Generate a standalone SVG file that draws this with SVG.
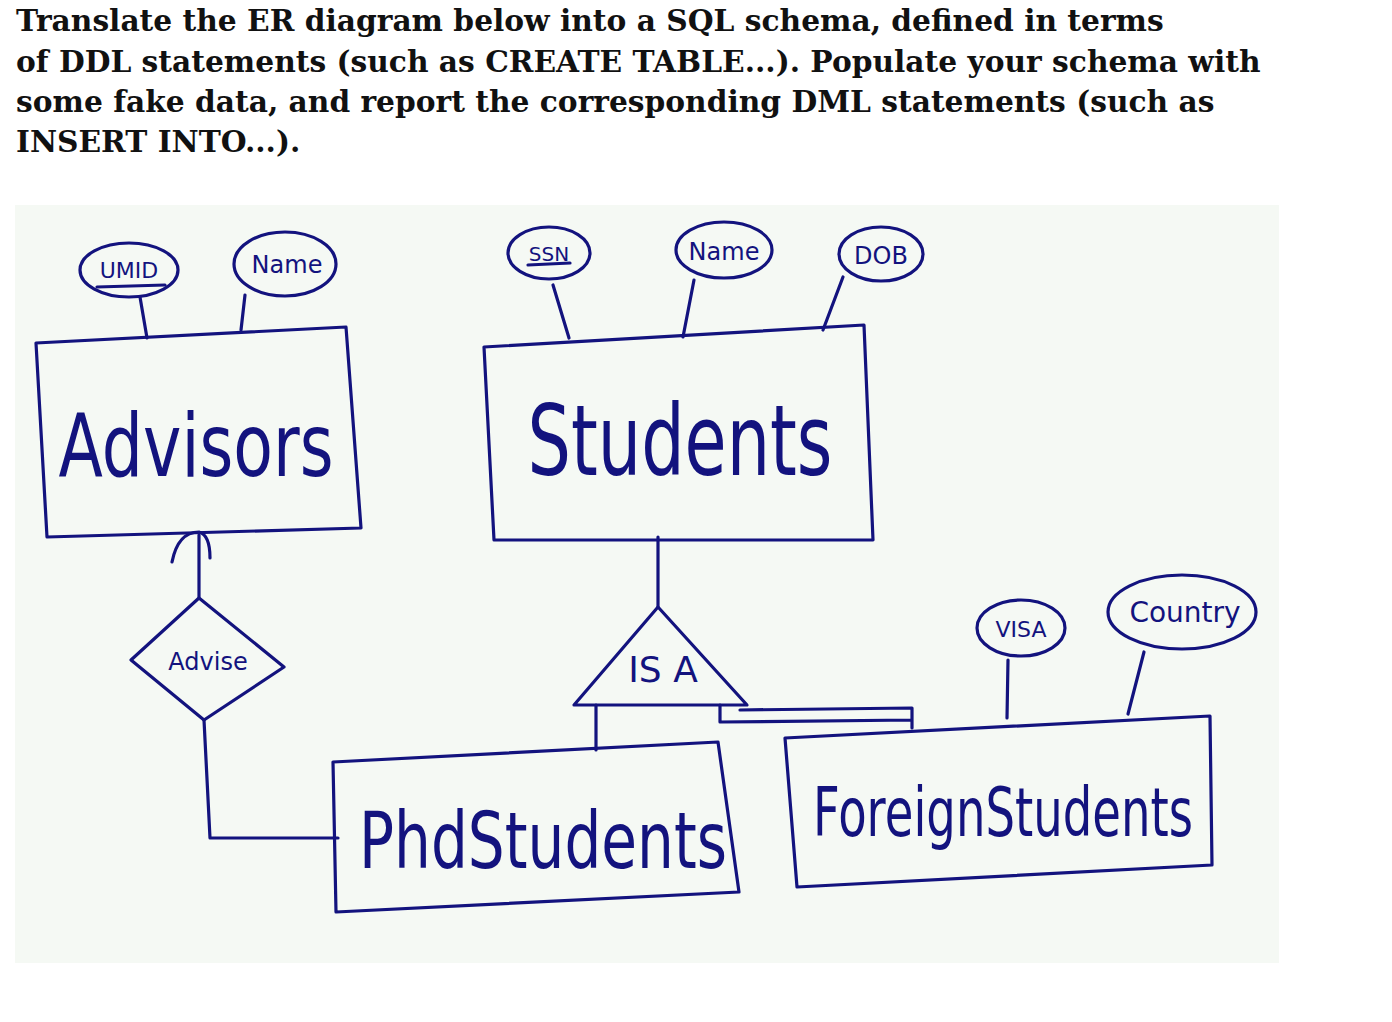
<svg xmlns="http://www.w3.org/2000/svg" width="1392" height="1022" viewBox="0 0 1392 1022">
<style>
.h{font-family:"DejaVu Serif",serif;font-weight:bold;font-size:29.7px;fill:#111}
.s{fill:none;stroke:#13137e;stroke-width:3.2;stroke-linejoin:round;stroke-linecap:round}
.t{font-family:"DejaVu Sans","Liberation Sans",sans-serif;fill:#13137e}
</style>
<rect width="1392" height="1022" fill="#fff"/>
<text class="h" x="16" y="31">Translate the ER diagram below into a SQL schema, defined in terms</text>
<text class="h" x="16" y="72">of DDL statements (such as CREATE TABLE...). Populate your schema with</text>
<text class="h" x="16" y="112">some fake data, and report the corresponding DML statements (such as</text>
<text class="h" x="16" y="152">INSERT INTO...).</text>
<rect x="15" y="205" width="1264" height="758" fill="#f5f9f4"/>
<g id="connectors" class="s">
<path d="M140,297 L147,338"/><path d="M245,295 L241,330"/>
<path d="M553,285 L569,338"/><path d="M694,280 L683,337"/><path d="M843,277 L823,330"/>
<path d="M199,597 L199,535"/><path d="M172,562 Q178,532 199,532 Q210,535 210,558"/>
<path d="M204,720 L210,838 L338,838"/>
<path d="M658,537 L658,607"/>
<path d="M596,705 L596,750"/>
<path d="M720,705 L720,722 L912,720 L912,728 M740,710 L912,708 L912,720"/>
<path d="M1008,660 L1007,718"/><path d="M1144,652 L1128,714"/>
</g>
<g id="umid" class="s"><ellipse cx="129" cy="270" rx="49" ry="27"/><path d="M97,287 L165,285"/></g>
<text class="t" x="129" y="278" font-size="22" text-anchor="middle">UMID</text>
<g id="aname" class="s"><ellipse cx="285" cy="264" rx="51" ry="32"/></g>
<text class="t" x="287" y="273" font-size="24" text-anchor="middle">Name</text>
<g id="ssn" class="s"><ellipse cx="549" cy="253" rx="41" ry="26"/><path d="M528,265 L570,263"/></g>
<text class="t" x="549" y="261" font-size="20" text-anchor="middle">SSN</text>
<g id="sname" class="s"><ellipse cx="724" cy="250" rx="48" ry="28"/></g>
<text class="t" x="724" y="260" font-size="24" text-anchor="middle">Name</text>
<g id="dob" class="s"><ellipse cx="881" cy="254" rx="42" ry="27"/></g>
<text class="t" x="881" y="264" font-size="24" text-anchor="middle">DOB</text>
<g id="advisors"><path class="s" d="M36,343 L346,327 L361,528 L47,537 Z"/>
<text class="t" x="196" y="476" font-size="88" text-anchor="middle" textLength="275" lengthAdjust="spacingAndGlyphs">Advisors</text></g>
<g id="students"><path class="s" d="M484,347 L864,325 L873,540 L494,540 Z"/>
<text class="t" x="680" y="475" font-size="98" text-anchor="middle" textLength="305" lengthAdjust="spacingAndGlyphs">Students</text></g>
<g id="advise"><path class="s" d="M199,598 L284,667 L204,720 L131,660 Z"/>
<text class="t" x="208" y="670" font-size="24" text-anchor="middle">Advise</text></g>
<g id="isa"><path class="s" d="M658,607 L747,705 L574,705 Z"/>
<text class="t" x="663" y="682" font-size="36" text-anchor="middle">IS A</text></g>
<g id="phd"><path class="s" d="M333,762 L718,742 L739,892 L336,912 Z"/>
<text class="t" x="543" y="868" font-size="78" text-anchor="middle" textLength="368" lengthAdjust="spacingAndGlyphs">PhdStudents</text></g>
<g id="foreign"><path class="s" d="M785,738 L1210,716 L1212,865 L797,887 Z"/>
<text class="t" x="1003" y="836" font-size="68" text-anchor="middle" textLength="380" lengthAdjust="spacingAndGlyphs">ForeignStudents</text></g>
<g id="visa" class="s"><ellipse cx="1021" cy="628" rx="44" ry="28"/></g>
<text class="t" x="1021" y="637" font-size="22" text-anchor="middle">VISA</text>
<g id="country" class="s"><ellipse cx="1182" cy="612" rx="74" ry="37"/></g>
<text class="t" x="1185" y="622" font-size="28" text-anchor="middle">Country</text>
</svg>
